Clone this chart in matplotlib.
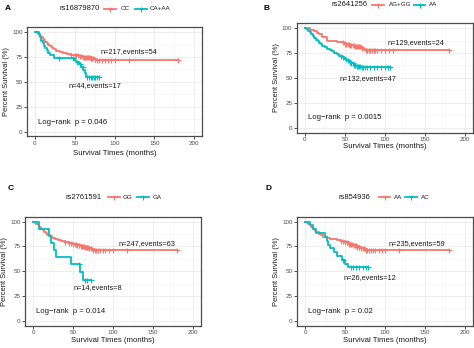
import numpy as np
import matplotlib
matplotlib.use("Agg")
import matplotlib.pyplot as plt
from matplotlib.lines import Line2D
from matplotlib.ticker import MultipleLocator

plt.rcParams['font.family'] = ['Liberation Sans', 'DejaVu Sans']

RED = '#F8766D'
CYAN = '#00BFC4'

# ---- Kaplan-Meier step data (event times in months, survival in %) ----
# Panel A: rs16879870
a_cc_t = [2, 4, 5, 6, 8, 10, 11, 13, 15, 17, 19, 21, 24, 27, 31, 35, 40, 45, 50, 55, 60, 65, 70, 74, 77]
a_cc_s = [99, 98, 97, 96, 94.5, 93, 91.5, 90, 88.5, 87, 85.5, 84, 82.5, 81, 80, 79, 78, 77, 76.5, 76, 75, 74.5, 73.5, 72.5, 71.8]
a_cc_cens = [45, 50, 52, 54, 56, 58, 60, 62, 63, 64, 66, 67, 68, 69, 70, 71, 72, 73, 75, 76, 78, 80, 84, 88, 92, 96, 100, 118, 180]
a_cc_end = 180
a_ca_t = [5, 6, 7, 8, 10, 11, 13, 15, 17, 19, 24, 49, 52, 55, 58, 61, 63, 64]
a_ca_s = [97.7, 95.4, 93.1, 90.8, 88.5, 86.2, 83.9, 81.6, 79.3, 77, 74.3, 72.3, 69.9, 67.4, 64.8, 62.2, 58.6, 55.2]
a_ca_cens = [30, 48, 53, 57, 60, 66, 68, 70, 72, 74, 76, 78, 80]
a_ca_end = 80

# Panel B: rs2641256
b_ag_t = [7, 11, 15, 18, 22, 28, 40, 49, 56, 62, 70, 74]
b_ag_s = [98.4, 96.9, 95.3, 93.8, 90.7, 87.6, 86, 84.4, 83.5, 82.6, 80.6, 78.2]
b_ag_cens = [48, 50, 52, 54, 55, 57, 58, 60, 61, 63, 64, 65, 66, 68, 69, 71, 72, 76, 78, 80, 82, 84, 86, 88, 90, 95, 100, 105, 110, 180]
b_ag_end = 180
b_aa_t = [2, 4, 6, 8, 10, 12, 14, 16, 18, 20, 22, 25, 28, 31, 34, 37, 40, 43, 46, 49, 52, 55, 58, 61, 64, 67, 70]
b_aa_s = [99.2, 97.7, 96.2, 94.7, 92.4, 90.2, 88.6, 87.1, 85.6, 84.1, 82.6, 81.1, 79.6, 78.1, 76.6, 75.1, 73.6,
          72.1, 70.6, 69.1, 67.6, 66.1, 64.6, 63.2, 62.3, 61.8, 61.3]
b_aa_cens = [45, 48, 51, 54, 56, 58, 60, 62, 63, 65, 66, 68, 69, 71, 73, 75, 78, 82, 86, 90, 95, 100, 104, 107]
b_aa_end = 107

# Panel C: rs2761591
c_gg_t = [2, 4, 6, 8, 10, 12, 14, 16, 18, 21, 24, 27, 31, 35, 40, 45, 50, 55, 60, 65, 70, 74]
c_gg_s = [99, 98, 96.5, 95, 93, 91.5, 90, 88.5, 87, 85.5, 84, 82.5, 81.5, 80.5, 79, 78, 77, 76, 75, 74, 73, 71.5]
c_gg_cens = [40, 45, 48, 50, 52, 54, 55, 57, 58, 60, 61, 62, 64, 65, 66, 67, 68, 69, 70, 72, 73, 75, 77, 79, 81,
             84, 87, 90, 95, 100, 118, 180]
c_gg_end = 180
c_ga_t = [7, 20, 23, 26, 29, 47, 59, 63]
c_ga_s = [92.9, 85.7, 78.6, 71.4, 64.3, 57.1, 48.9, 40.8]
c_ga_cens = [57, 65, 68, 73]
c_ga_end = 73

# Panel D: rs854936
d_aa_t = [2, 4, 6, 8, 10, 12, 14, 17, 20, 23, 27, 31, 35, 40, 45, 50, 55, 60, 65, 70, 75]
d_aa_s = [99, 98, 96.5, 95, 93, 91, 89.5, 88, 86.5, 85, 84, 83, 82, 81, 80, 79, 77.5, 76, 74.5, 73, 71]
d_aa_cens = [45, 48, 50, 52, 53, 55, 56, 58, 59, 61, 62, 64, 65, 67, 68, 70, 72, 74, 76, 78, 80, 82, 85, 88, 92,
             96, 100, 118, 180]
d_aa_end = 180
d_ac_t = [6, 10, 14, 25, 27, 29, 31, 36, 40, 46, 50, 54]
d_ac_s = [96.2, 92.3, 88.5, 84.6, 80.8, 76.9, 73.1, 69.2, 65.4, 61.5, 57.7, 53.8]
d_ac_cens = [47, 57, 60, 64, 68, 72, 76, 79]
d_ac_end = 79

panels = [
    dict(tag='A', snp='rs16879870', groups=['CC', 'CA+AA'],
         curves=[(a_cc_t, a_cc_s, a_cc_cens, a_cc_end), (a_ca_t, a_ca_s, a_ca_cens, a_ca_end)],
         notes=['n=217,events=54', 'n=44,events=17'], pval='0.046'),
    dict(tag='B', snp='rs2641256', groups=['AG+GG', 'AA'],
         curves=[(b_ag_t, b_ag_s, b_ag_cens, b_ag_end), (b_aa_t, b_aa_s, b_aa_cens, b_aa_end)],
         notes=['n=129,events=24', 'n=132,events=47'], pval='0.0015'),
    dict(tag='C', snp='rs2761591', groups=['GG', 'GA'],
         curves=[(c_gg_t, c_gg_s, c_gg_cens, c_gg_end), (c_ga_t, c_ga_s, c_ga_cens, c_ga_end)],
         notes=['n=247,events=63', 'n=14,events=8'], pval='0.014'),
    dict(tag='D', snp='rs854936', groups=['AA', 'AC'],
         curves=[(d_aa_t, d_aa_s, d_aa_cens, d_aa_end), (d_ac_t, d_ac_s, d_ac_cens, d_ac_end)],
         notes=['n=235,events=59', 'n=26,events=12'], pval='0.02'),
]

# ---- layout (pixel geometry) ----
W, H = 474, 348
fig = plt.figure(figsize=(W / 100, H / 100), dpi=100)
fig.patch.set_facecolor('white')

def fx(x):
    return x / W

def fy(y):
    return 1 - y / H

# axes boxes: left, top, right, bottom in pixels
boxes = [(27, 27, 202, 136.5), (296.7, 23.3, 472.7, 132.5), (25, 216.7, 201, 325.7), (297, 216.7, 473, 325.7)]
tag_pos = [(8, 9), (267, 9), (11, 189), (269, 189)]
xlab_y = [153, 147, 340.7, 340.7]
ylab_x = [7, 276, 5, 276]
# legend: title start x, key1 x0, label1 x0, key2 x0, label2 x0, y
legends = [
    (59.3, 104.3, 120.7, 135, 150, 9),
    (331.3, 372, 388.7, 413.7, 428.7, 4.5),
    (65, 108, 123, 137, 153, 197.3),
    (338.7, 378.7, 393.7, 405, 421, 197.3),
]
# note positions in data units
note_xy = [
    [(118, 80), (75, 46.5)],
    [(139, 85.5), (79, 49)],
    [(142, 78), (81, 33.6)],
    [(139.5, 78), (80.5, 44)],
]
logrank_y = [9.3, 10.5, 9.4, 9.8]


def km_step(t, s, end):
    x = np.concatenate([[0], t, [end]])
    y = np.concatenate([[100], s, [s[-1]]])
    return x, y


def surv_at(t, s, times):
    idx = np.searchsorted(np.asarray(t), np.asarray(times), side='right')
    vals = np.concatenate([[100], s])
    return vals[idx]


for i, p in enumerate(panels):
    l, t, r, b = boxes[i]
    ax = fig.add_axes([fx(l), fy(b), (r - l) / W, (b - t) / H])
    ax.set_xlim(-10, 210)
    ax.set_ylim(-5, 105)
    ax.xaxis.set_major_locator(MultipleLocator(50))
    ax.xaxis.set_minor_locator(MultipleLocator(25))
    ax.yaxis.set_major_locator(MultipleLocator(25))
    ax.yaxis.set_minor_locator(MultipleLocator(12.5))
    ax.grid(which='major', color='#EBEBEB', lw=0.6)
    ax.grid(which='minor', color='#F2F2F2', lw=0.4)
    ax.set_axisbelow(True)
    for sp in ax.spines.values():
        sp.set_color('#4D4D4D')
        sp.set_linewidth(0.9)
    ax.tick_params(which='major', length=2, width=0.6, color='#333333', labelsize=4.5,
                   labelcolor='#4D4D4D', pad=1.2)
    ax.tick_params(which='minor', length=0)

    for (et, es, cens, end), col in zip(p['curves'], [RED, CYAN]):
        x, y = km_step(et, es, end)
        ax.step(x, y, where='post', color=col, lw=1.3, zorder=3)
        ax.plot(cens, surv_at(et, es, cens), ls='none', marker='+', ms=3.6, mew=0.8,
                color=col, zorder=3)

    (n1x, n1y), (n2x, n2y) = note_xy[i]
    ax.text(n1x, n1y, p['notes'][0], ha='center', va='center', fontsize=5.3, color='#1A1A1A')
    ax.text(n2x, n2y, p['notes'][1], ha='center', va='center', fontsize=5.3, color='#1A1A1A')
    ax.text(4, logrank_y[i], 'Log\u2212rank  p = ' + p['pval'], ha='left', va='center',
            fontsize=5.6, color='#1A1A1A')

    # axis titles
    fig.text(fx((l + r) / 2), fy(xlab_y[i]), 'Survival Times (months)', ha='center', va='center',
             fontsize=5.6, color='#1A1A1A')
    fig.text(fx(ylab_x[i]), fy((t + b) / 2), 'Percent Survival (%)', ha='center', va='center',
             rotation=90, fontsize=5.4, color='#1A1A1A')

    # panel tag
    fig.text(fx(tag_pos[i][0]), fy(tag_pos[i][1]), p['tag'], ha='center', va='center',
             fontsize=6, fontweight='bold', color='black')

    # legend (title on the left, keys in one row)
    tx, k1, l1, k2, l2, ly = legends[i]
    fig.text(fx(tx), fy(ly), p['snp'], ha='left', va='center', fontsize=5.5, color='#1A1A1A')
    for kx, lx, col, lab in [(k1, l1, RED, p['groups'][0]), (k2, l2, CYAN, p['groups'][1])]:
        fig.add_artist(Line2D([fx(kx), fx(kx + 11.7)], [fy(ly), fy(ly)], color=col, lw=1.3,
                              transform=fig.transFigure))
        fig.add_artist(Line2D([fx(kx + 5.85)], [fy(ly)], color=col, marker='+', ms=3.6, mew=0.8,
                              ls='none', transform=fig.transFigure))
        fig.text(fx(lx), fy(ly), lab, ha='left', va='center', fontsize=4.5, color='#1A1A1A')

fig.savefig('out.png', dpi=100, facecolor='white')
